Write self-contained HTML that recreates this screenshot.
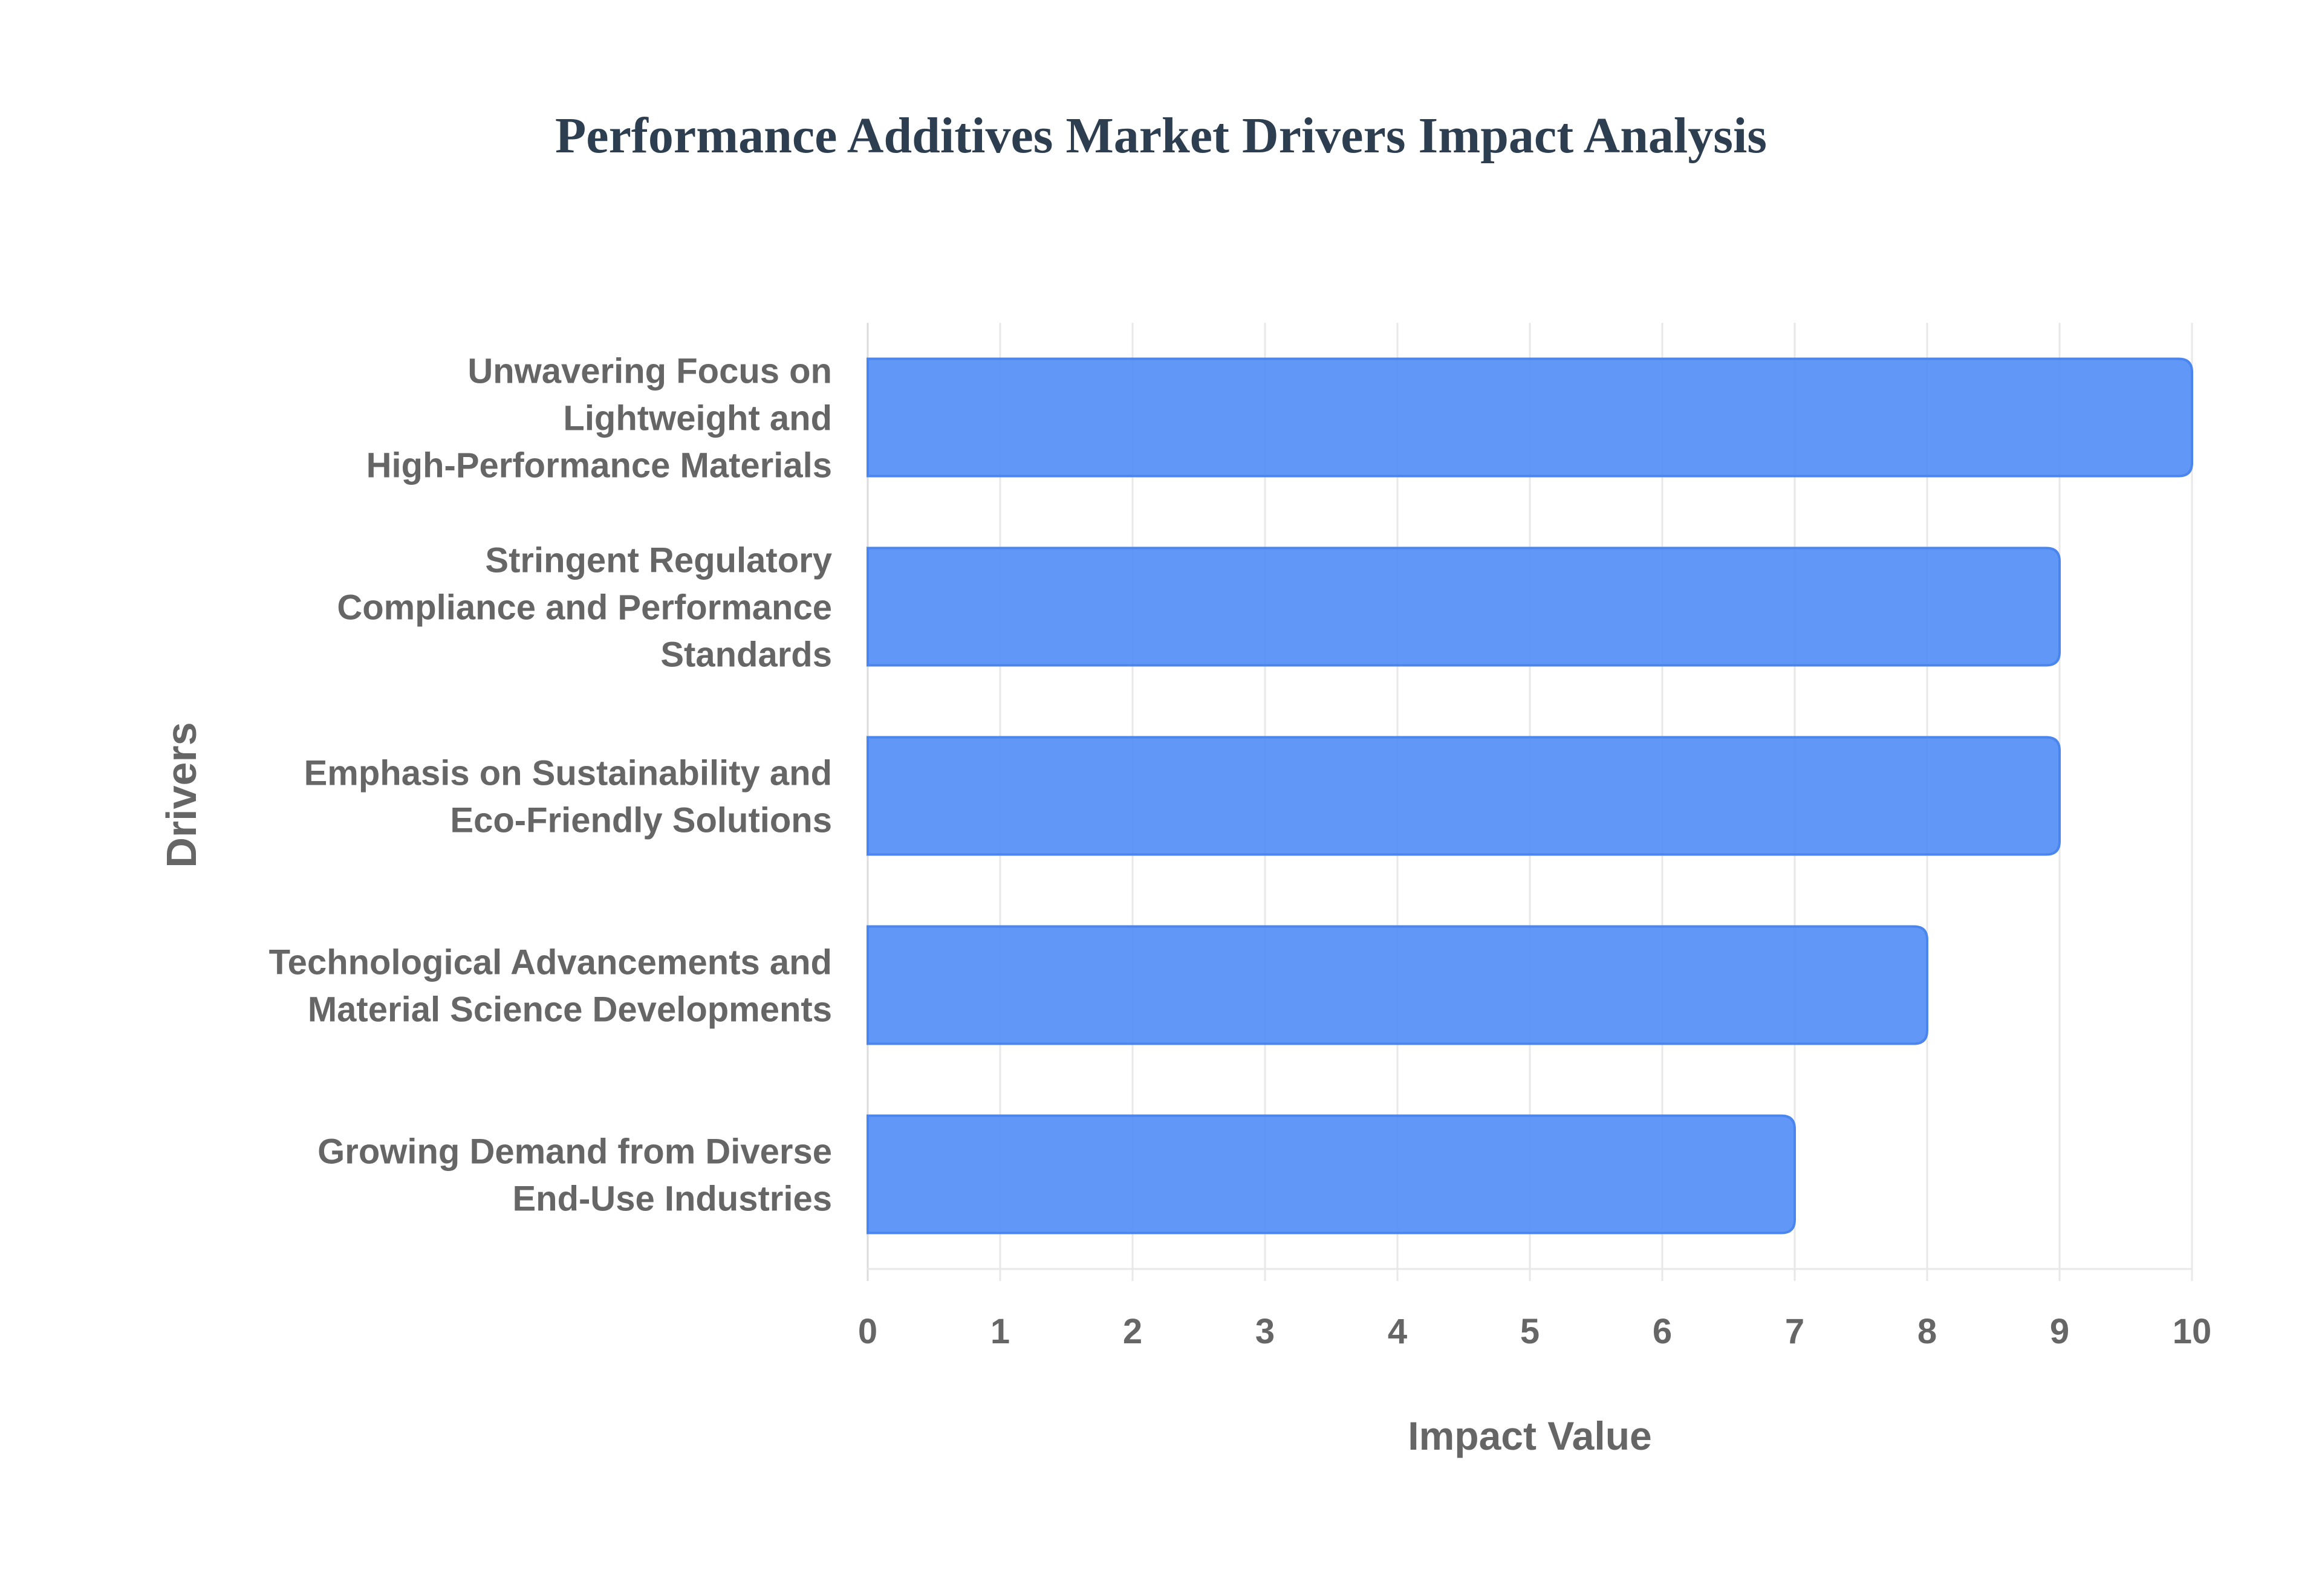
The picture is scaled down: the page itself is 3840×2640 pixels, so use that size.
<!DOCTYPE html>
<html><head><meta charset="utf-8"><style>
html,body{margin:0;padding:0;background:#fff;}
svg{display:block;}
text{font-family:"Liberation Sans",Arial,sans-serif;}
</style></head><body>
<svg id="chart" width="3840" height="2640" xmlns="http://www.w3.org/2000/svg">
<text x="1920" y="252" text-anchor="middle" font-weight="bold" font-size="84" fill="#2c3e50" style="font-family:'Liberation Serif',serif">Performance Additives Market Drivers Impact Analysis</text>
<g id="grid"></g>
<g id="bars"></g>
<g id="ylabels"></g>
<g id="xticks"></g>
<text x="2530" y="2398" text-anchor="middle" font-weight="bold" font-size="66" fill="#666">Impact Value</text>
<text transform="translate(324,1315) rotate(-90)" text-anchor="middle" font-weight="bold" font-size="70" fill="#666">Drivers</text>
</svg>
<script>
const categories = [
  ["Unwavering Focus on","Lightweight and","High-Performance Materials"],
  ["Stringent Regulatory","Compliance and Performance","Standards"],
  ["Emphasis on Sustainability and","Eco-Friendly Solutions"],
  ["Technological Advancements and","Material Science Developments"],
  ["Growing Demand from Diverse","End-Use Industries"]
];
const values = [10, 9, 9, 8, 7];
const tickLabels = [0,1,2,3,4,5,6,7,8,9,10];

const NS = "http://www.w3.org/2000/svg";
const X0 = 1435, X1 = 3625, XMAX = 10, Y0 = 534, Y1 = 2099;
const xs = v => X0 + (v / XMAX) * (X1 - X0);
const band = (Y1 - Y0) / categories.length;
const ys = i => Y0 + band * i;
function mk(tag, attrs, parent){const e=document.createElementNS(NS,tag);for(const k in attrs)e.setAttribute(k,attrs[k]);parent.appendChild(e);return e;}

const grid = document.getElementById('grid');
tickLabels.forEach(t=>{
  const l = mk('line',{x1:xs(t),x2:xs(t),y1:Y0,y2:Y1+20,stroke:t===0?'#dcdcdc':'#e8e8e8','stroke-width':3},grid);
  
  
});
const base = mk('line',{x1:X0,x2:X1,y1:Y1,y2:Y1,stroke:'#e8e8e8','stroke-width':3},grid);



const bars = document.getElementById('bars');
const bh = band * 0.62, r = 22;
values.forEach((v,i)=>{
  const y = ys(i) + (band - bh)/2, x = X0, w = xs(v) - X0;
  const d = `M${x},${y} H${x+w-r} Q${x+w},${y} ${x+w},${y+r} V${y+bh-r} Q${x+w},${y+bh} ${x+w-r},${y+bh} H${x} Z`;
  const p = mk('path',{d:d,fill:'rgba(80,140,245,0.9)',stroke:'#4a86ee','stroke-width':4},bars);
  
  
});

const yl = document.getElementById('ylabels');
categories.forEach((lines,i)=>{
  const cy = ys(i) + band/2, lh = 78;
  const startY = cy - (lines.length-1)*lh/2 + 21;
  const t = mk('text',{x:1376,y:startY,'text-anchor':'end','font-weight':'bold','font-size':58,fill:'#666'},yl);
  
  
  lines.forEach((s,j)=>{const ts=mk('tspan',{x:1376,y:startY+j*lh},t);ts.textContent=s;});
});

const xt = document.getElementById('xticks');
tickLabels.forEach(t=>{
  const e = mk('text',{x:xs(t),y:2222,'text-anchor':'middle','font-weight':'bold','font-size':58,fill:'#666'},xt);
  
  
  e.textContent = t;
});
</script>
</body></html>
